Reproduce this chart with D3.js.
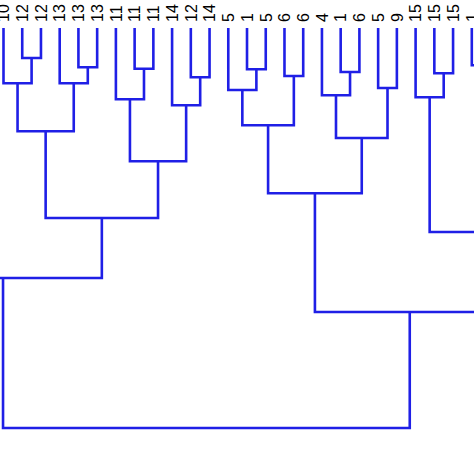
<!DOCTYPE html>
<meta charset="utf-8">
<style>
  body { margin: 0; background: #fff; }
  .leaf { font-family: "Liberation Sans", Arial, sans-serif; font-size: 16px; fill: #000; }
  .link { fill: none; stroke: #1f1fe6; stroke-width: 2.6; stroke-linejoin: miter; }
</style>
<body>
<svg id="chart"></svg>
<script src="https://d3js.org/d3.v7.min.js"></script>
<script>

// leaf labels in dendrogram order (last one lies just past the right edge)
var leafLabels = ["10","12","12","13","13","13","11","11","11","14","12","14",
                  "5","1","5","6","6","4","1","6","5","9","15","15","15","1",""];

// subtrees that fall outside the crop, in leaf-order units
var clippedPos = [-5.3, 36];

// merge list: L = leaf, M = earlier merge, C = clipped subtree
var merges = [
  ["L1","L2"], ["L0","M0"], ["L4","L5"], ["L3","M2"], ["M1","M3"],
  ["L7","L8"], ["L6","M5"], ["L10","L11"], ["L9","M7"], ["M6","M8"],
  ["M4","M9"], ["C0","M10"],
  ["L13","L14"], ["L12","M12"], ["L15","L16"], ["M13","M14"],
  ["L18","L19"], ["L17","M16"], ["L20","L21"], ["M17","M18"], ["M15","M19"],
  ["L23","L24"], ["L22","M21"], ["L25","L26"], ["M23","C1"], ["M22","M24"],
  ["M20","M25"], ["M11","M26"]
];
var heights = [0.75, 1.38, 0.98, 1.38, 2.58,
               1.02, 1.78, 1.23, 1.93, 3.33,
               4.75, 6.25,
               1.03, 1.55, 1.2, 2.43,
               1.1, 1.68, 1.5, 2.75, 4.13,
               1.13, 1.73, 0.93, 3.5, 5.1,
               7.1, 10];

var width = 474, height = 474;

var svg = d3.select("#chart")
    .attr("width", width)
    .attr("height", height);

var x = d3.scaleLinear().domain([0, 25]).range([3.5, 471.8]);
var y = d3.scaleLinear().domain([0, 10]).range([28, 428]);

var nodes = [];
function ref(r) {
  var k = r[0], i = +r.slice(1);
  if (k == "L") return {x: i, h: 0};
  if (k == "C") return {x: clippedPos[i], h: 0};
  return nodes[i];
}
merges.forEach(function(m, i) {
  var a = ref(m[0]), b = ref(m[1]);
  nodes.push({x: (a.x + b.x) / 2, h: heights[i], a: a, b: b});
});

svg.selectAll(".link")
    .data(nodes)
  .enter().append("path")
    .attr("class", "link")
    .attr("d", function(d) {
      var p = d3.path();
      p.moveTo(x(d.a.x), y(d.a.h));
      p.lineTo(x(d.a.x), y(d.h));
      p.lineTo(x(d.b.x), y(d.h));
      p.lineTo(x(d.b.x), y(d.b.h));
      return p.toString();
    });

svg.selectAll(".leaf")
    .data(leafLabels)
  .enter().append("text")
    .attr("class", "leaf")
    .attr("transform", function(d, i) { return "translate(" + x(i) + ",22) rotate(-90)"; })
    .attr("dy", "0.36em")
    .text(function(d) { return d; });

</script>
</body>
